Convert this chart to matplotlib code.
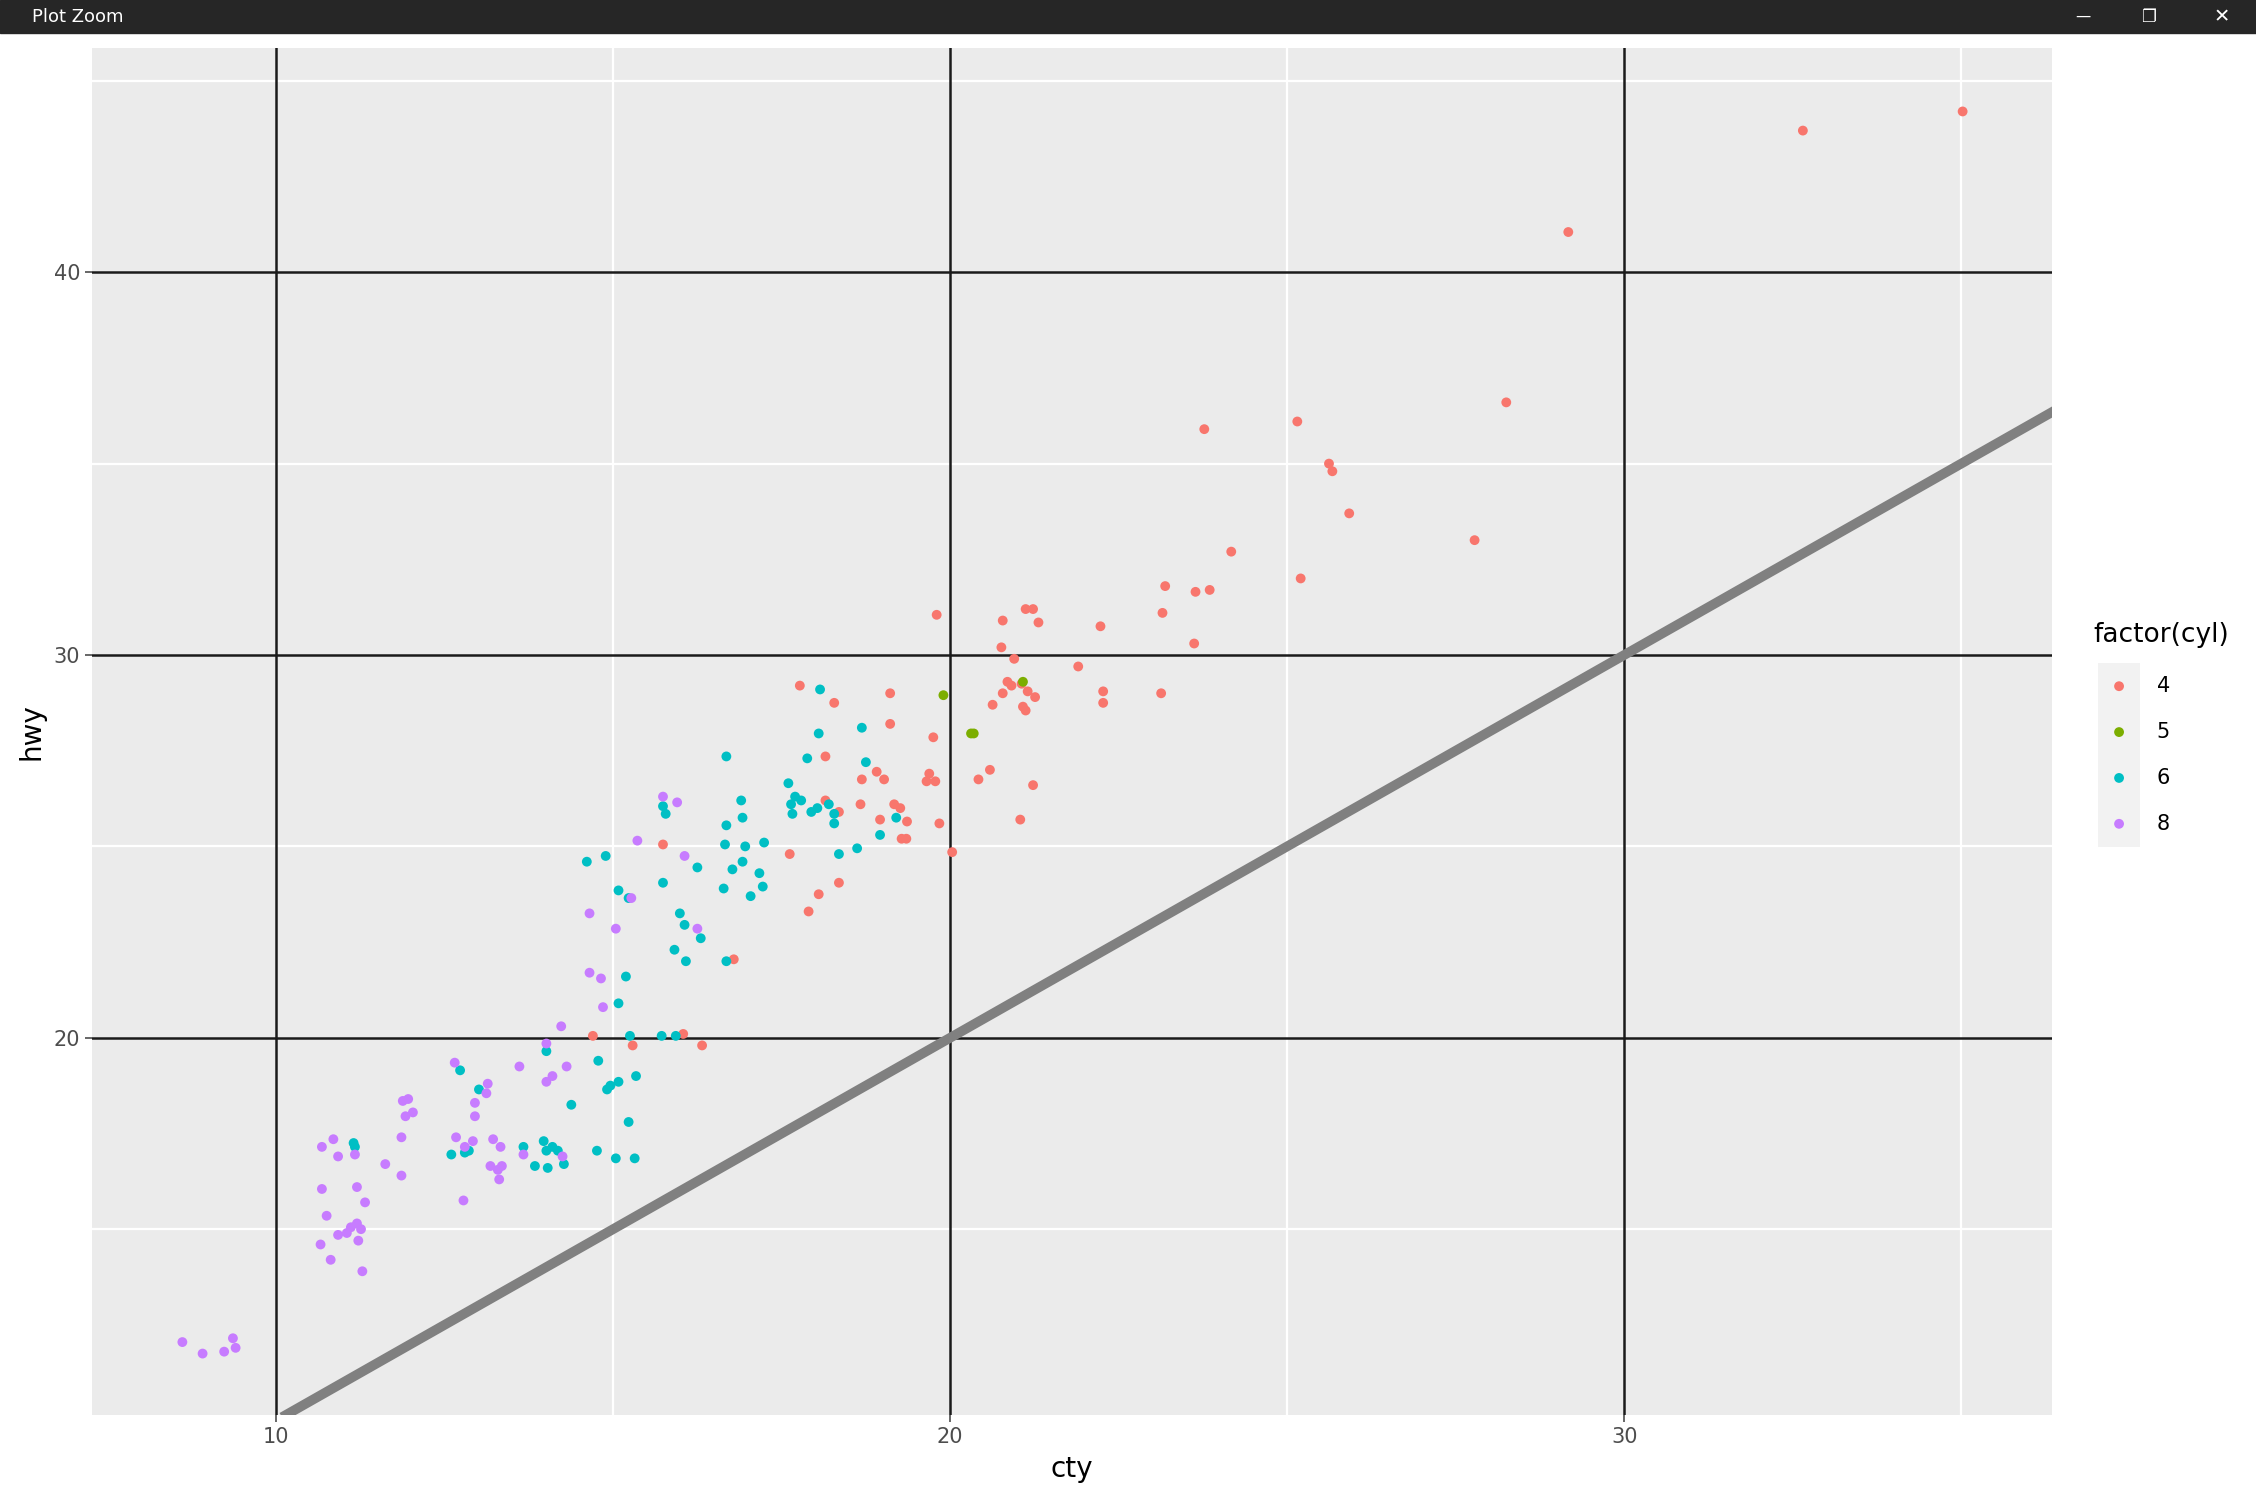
import matplotlib
matplotlib.use("Agg")
import matplotlib.pyplot as plt
from matplotlib.patches import Rectangle

cyl4_cty = [35.02,32.65,29.17,28.25,23.77,25.15,25.62,25.67,25.92,24.17,27.78,25.2,23.19,23.85,23.64,23.15,23.62,23.13,22.23,21.9,22.27,22.27,
            19.8,20.78,21.12,21.23,21.31,20.76,20.95,20.85,20.91,20.78,20.63,21.06,21.15,21.26,21.08,21.12,20.59,20.42,21.23,21.04,
            19.75,19.69,19.65,19.78,19.84,20.03,19.11,19.11,18.91,19.02,19.17,19.26,19.36,18.96,19.35,19.28,18.67,
            17.77,18.28,18.15,18.15,18.35,18.69,17.62,18.35,18.05,17.9,15.74,14.7,15.29,16.04,16.32,16.79]
cyl4_hwy = [44.2,43.7,41.05,36.6,35.9,36.1,35.0,34.8,33.7,32.7,33.0,32.0,31.8,31.7,31.65,31.1,30.3,29.0,30.75,29.7,29.05,28.75,
            31.05,30.9,31.2,31.2,30.85,30.2,29.9,29.3,29.2,29.0,28.7,29.25,29.05,28.9,28.65,28.55,27.0,26.75,26.6,25.7,
            27.85,26.9,26.7,26.7,25.6,24.85,29.0,28.2,26.95,26.75,26.1,26.0,25.65,25.7,25.2,25.2,26.1,
            29.2,28.75,27.35,26.2,25.9,26.75,24.8,24.05,23.75,23.3,25.05,20.05,19.8,20.1,19.8,22.05]
cyl5_cty = [19.9,20.31,20.35,21.08]
cyl5_hwy = [28.95,27.95,27.95,29.3]
cyl6_cty = [18.07,18.69,18.75,18.05,17.88,16.68,16.9,16.92,16.68,16.66,16.96,17.24,
            17.6,17.7,17.79,17.66,17.94,18.03,18.2,18.28,18.28,18.35,18.62,18.96,19.2,17.64,
            16.25,16.77,16.92,17.04,17.17,17.22,16.64,
            15.74,15.78,15.74,15.99,16.06,16.3,16.08,15.91,16.68,
            14.61,14.89,15.08,15.23,15.19,15.08,15.25,15.72,15.93,
            14.78,15.34,15.08,14.91,14.96,14.38,
            15.23,14.01,13.97,14.1,14.01,14.18,13.67,13.84,14.03,14.27,14.76,15.04,15.32,
            11.15,11.17,12.73,13.01,12.8,12.6,12.86]
cyl6_hwy = [29.1,28.1,27.2,27.95,27.3,27.35,26.2,25.75,25.55,25.05,25.0,25.1,
            26.65,26.3,26.2,25.85,25.9,26.0,26.1,25.85,25.6,24.8,24.95,25.3,25.75,26.1,
            24.45,24.4,24.6,23.7,24.3,23.95,23.9,
            26.05,25.85,24.05,23.25,22.95,22.6,22.0,22.3,22.0,
            24.6,24.75,23.85,23.65,21.6,20.9,20.05,20.05,20.05,
            19.4,19.0,18.85,18.65,18.75,18.25,
            17.8,19.65,17.3,17.15,17.05,17.05,17.15,16.65,16.6,16.7,17.05,16.85,16.85,
            17.25,17.15,19.15,18.65,17.0,16.95,17.05]
cyl8_cty = [15.74,15.95,15.36,16.06,14.65,15.27,15.04,16.25,
            14.65,14.82,14.85,14.23,14.01,14.31,14.1,14.01,
            12.65,13.61,13.14,13.12,12.95,12.95,12.67,12.92,13.22,13.33,13.18,13.29,13.35,13.31,12.78,12.8,13.67,14.25,
            11.88,11.96,11.92,12.03,11.86,11.62,11.86,
            10.68,10.85,10.92,11.17,10.68,10.75,10.66,10.81,10.92,11.11,11.2,11.22,11.26,11.32,11.2,11.28,11.05,
            8.61,8.91,9.23,9.36,9.4]
cyl8_hwy = [26.3,26.15,25.15,24.75,23.25,23.65,22.85,22.85,
            21.7,21.55,20.8,20.3,19.85,19.25,19.0,18.85,
            19.35,19.25,18.8,18.55,18.3,17.95,17.4,17.3,17.35,17.15,16.65,16.55,16.65,16.3,15.75,17.15,16.95,16.9,
            18.35,18.4,17.95,18.05,17.4,16.7,16.4,
            17.15,17.35,16.9,16.95,16.05,15.35,14.6,14.2,14.85,15.05,15.15,14.7,15.0,15.7,16.1,13.9,14.9,
            12.05,11.75,11.8,12.15,11.9]

groups = [("4", cyl4_cty, cyl4_hwy, "#F8766D"), ("5", cyl5_cty, cyl5_hwy, "#7CAE00"),
          ("6", cyl6_cty, cyl6_hwy, "#00BFC4"), ("8", cyl8_cty, cyl8_hwy, "#C77CFF")]

fig = plt.figure(figsize=(22.56, 15.04), dpi=100, facecolor="white")
# window title bar
fig.patches.append(Rectangle((0, 0.978), 1, 0.022, transform=fig.transFigure, color="#262626", zorder=0))
fig.text(0.014, 0.989, "Plot Zoom", color="white", fontsize=13, va="center")
fig.text(0.92, 0.989, "—", color="white", fontsize=11, va="center")
fig.text(0.949, 0.989, "❐", color="white", fontsize=12, va="center")
fig.text(0.981, 0.989, "✕", color="white", fontsize=14, va="center")

ax = fig.add_axes([0.0408, 0.0593, 0.9094 - 0.0408, 0.9684 - 0.0593])
ax.set_facecolor("#EBEBEB")
ax.set_xlim(7.27, 36.34)
ax.set_ylim(10.15, 45.87)
for v in [15, 25, 35]:
    ax.axvline(v, color="white", lw=1.6, zorder=1)
for v in [15, 25, 35, 45]:
    ax.axhline(v, color="white", lw=1.6, zorder=1)
for v in [10, 20, 30]:
    ax.axvline(v, color="#1a1a1a", lw=1.8, zorder=1)
for v in [20, 30, 40]:
    ax.axhline(v, color="#1a1a1a", lw=1.8, zorder=1)
for lab, xs, ys, c in groups:
    ax.scatter(xs, ys, s=50, color=c, edgecolors="none", zorder=3)
ax.axline((10, 10), (30, 30), color="#808080", lw=7, zorder=2)
for s in ax.spines.values():
    s.set_visible(False)
ax.set_xticks([10, 20, 30])
ax.set_yticks([20, 30, 40])
ax.tick_params(colors="#4D4D4D", labelsize=15, length=5, width=1.2, labelcolor="#4D4D4D")
ax.set_xlabel("cty", fontsize=20, color="black", labelpad=6)
ax.set_ylabel("hwy", fontsize=20, color="black", labelpad=6)

# legend
fig.text(0.928, 0.578, "factor(cyl)", fontsize=19, va="center", ha="left")
lax = fig.add_axes([0.9298, 0.437, 0.019, 0.122])
lax.set_facecolor("#EBEBEB")
lax.set_xlim(0, 1); lax.set_ylim(0, 4)
lax.axis("off")
lax.add_patch(Rectangle((0, 0), 1, 4, color="#F2F2F2"))
for i, (lab, xs, ys, c) in enumerate(groups):
    y = 3.5 - i
    lax.scatter([0.5], [y], s=50, color=c, edgecolors="none")
    fig.text(0.956, 0.437 + 0.122 * (y / 4), lab, fontsize=15, va="center")

fig.savefig("out.png", dpi=100, facecolor="white")
